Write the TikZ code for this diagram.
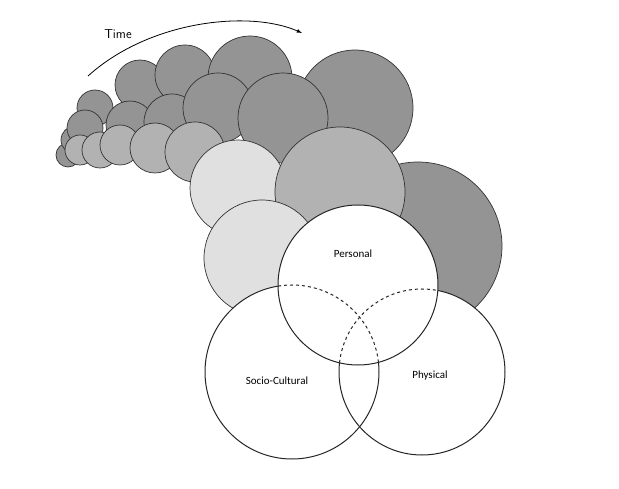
\documentclass[tikz,border=0pt]{standalone}
\usepackage{fontspec}
\setmainfont{Carlito}
\begin{document}
\begin{tikzpicture}[x=1pt,y=-1pt]
\useasboundingbox (0,0) rectangle (619,489);
\tikzset{dk/.style={draw=black!80,line width=0.7pt,fill=black!42},
 md/.style={draw=black!80,line width=0.7pt,fill=black!30},
 lt/.style={draw=black!80,line width=0.7pt,fill=black!12},
 ol/.style={draw=black!85,line width=1pt},
 lab/.style={font=\fontsize{11}{13}\selectfont}}
% back trail
\foreach \x/\y/\r in {68/155/12,75/140/14,95/108/18,140/85/25,185/75/30,250/78/42,355/108/58,
  85/128/18,130/125/24,172/122/28,218/108/35,283/118/45}
  \draw[dk] (\x,\y) circle (\r);
\foreach \x/\y/\r in {80/150/15,100/150/18,120/145/20,155/148/25,195/152/30}
  \draw[md] (\x,\y) circle (\r);
\draw[lt] (238,188) circle (48);
\draw[dk] (418,246) circle (84);
\draw[md] (340,192) circle (65);
\draw[lt] (262,258) circle (58);
% front fills
\fill[white] (358,285) circle (80);
\fill[white] (292,372) circle (87);
\fill[white] (422,372) circle (83);
% outlines
\draw[ol] (358,285) circle (80);
\begin{scope}
\clip (358,285) circle (80);
\draw[ol,dashed] (292,372) circle (87);
\draw[ol,dashed] (422,372) circle (83);
\end{scope}
\begin{scope}[even odd rule]
\clip (358,285) circle (80) (0,0) rectangle (619,489);
\draw[ol] (292,372) circle (87);
\draw[ol] (422,372) circle (83);
\end{scope}
\node[lab] (p) at (353,254) {Personal};
\node[lab] (s) at (277,381) {Socio-Cultural};
\node[lab] (h) at (430,376) {Physical};
\node[font=\fontsize{13}{15}\selectfont\sffamily] (t) at (118,34) {Time};
\coordinate (a1) at (88,76);
\coordinate (a2) at (302,33);
\draw[line width=0.8pt,-latex] (a1) .. controls (150,20) and (250,10) .. (a2);
\end{tikzpicture}
\end{document}
